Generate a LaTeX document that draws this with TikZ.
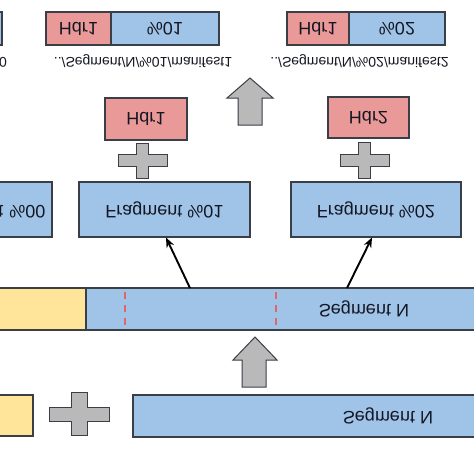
\documentclass[tikz,border=0pt]{standalone}
\usepackage{fontspec}
\setmainfont{Liberation Sans}
\usetikzlibrary{arrows.meta}
\definecolor{cblue}{RGB}{160,196,232}
\definecolor{cred}{RGB}{234,153,153}
\definecolor{cyel}{RGB}{255,229,153}
\definecolor{cgray}{RGB}{185,185,185}
\definecolor{cline}{RGB}{58,62,70}
\definecolor{cdash}{RGB}{224,102,110}
\definecolor{ctext}{RGB}{20,22,34}
\newcommand{\vflip}[1]{\scalebox{1}[-1]{#1}}
\tikzset{
  boxbase/.style={draw=cline, line width=1.2pt, inner sep=0pt, outer sep=0pt, text=ctext, font=\fontsize{18}{20}\selectfont},
  bluebox/.style={boxbase, fill=cblue},
  redbox/.style={boxbase, fill=cred},
  yelbox/.style={boxbase, fill=cyel},
  graybox/.style={fill=cgray, draw=cline, line width=1pt, line join=miter},
  lbl/.style={inner sep=0pt, text=ctext, font=\fontsize{14}{16}\selectfont},
  big/.style={inner sep=0pt, text=ctext, font=\fontsize{18}{20}\selectfont},
  conn/.style={line width=1.9pt, -{Stealth[length=10pt,width=8pt]}},
  cut/.style={draw=cdash, line width=1.5pt, dash pattern=on 7pt off 6pt}
}
\begin{document}
\begin{tikzpicture}[x=1pt,y=-1pt]
\useasboundingbox (0,0) rectangle (474,474);
\fill[white] (0,0) rectangle (474,474);
\clip (0,0) rectangle (474,474);

% top row: packaged fragments
\node[bluebox, minimum width=100, minimum height=33] (t0) at (-48,28.5) {};
\node[redbox, minimum width=65, minimum height=33] (t1h) at (78.5,28.5) {\vflip{Hdr1}};
\node[bluebox, minimum width=108, minimum height=33] (t1b) at (165,28.5) {\vflip{\%01}};
\node[redbox, minimum width=62, minimum height=33] (t2h) at (318,28.5) {\vflip{Hdr1}};
\node[bluebox, minimum width=96, minimum height=33] (t2b) at (397,28.5) {\vflip{\%02}};
\node[lbl, anchor=east] (m0) at (7,61) {\vflip{../Segment/N/\%00/manifest0}};
\node[lbl] (m1) at (143,61) {\vflip{../Segment/N/\%01/manifest1}};
\node[lbl] (m2) at (359.5,61) {\vflip{../Segment/N/\%02/manifest2}};

% top block arrow
\draw[graybox] (250,78) -- (273,98) -- (262,98) -- (262,125) -- (238,125) -- (238,98) -- (227,98) -- cycle;

% headers
\node[redbox, minimum width=82, minimum height=42] (h1) at (146,119) {\vflip{Hdr1}};
\node[redbox, minimum width=81, minimum height=41] (h2) at (368.5,117.5) {\vflip{Hdr2}};

% plus signs
\draw[graybox] (136,143) -- (148,143) -- (148,154) -- (167,154) -- (167,166) -- (148,166) -- (148,178) -- (136,178) -- (136,166) -- (118,166) -- (118,154) -- (136,154) -- cycle;
\draw[graybox] (358.5,142) -- (370.5,142) -- (370.5,154) -- (389,154) -- (389,166) -- (370.5,166) -- (370.5,178) -- (358.5,178) -- (358.5,166) -- (340,166) -- (340,154) -- (358.5,154) -- cycle;

% fragments
\node[bluebox, minimum width=171, minimum height=55, text width=158, align=right] (f0) at (-33.5,209.5) {\vflip{Fragment \%00}};
\node[bluebox, minimum width=171, minimum height=55] (f1) at (164.5,209.5) {\vflip{Fragment \%01}};
\node[bluebox, minimum width=170, minimum height=55] (f2) at (376,209.5) {\vflip{Fragment \%02}};

% segment bar with cuts
\node[yelbox, minimum width=110, minimum height=42, anchor=east] (sy) at (86,309) {};
\node[bluebox, minimum width=400, minimum height=42, anchor=west] (sb) at (86,309) {};
\node[big] (st) at (364,309) {\vflip{Segment N}};
\coordinate (c1a) at (125,292);
\coordinate (c1b) at (125,330);
\coordinate (c2a) at (276,292);
\coordinate (c2b) at (276,330);
\draw[cut] (c1a) -- (c1b);
\draw[cut] (c2a) -- (c2b);

% connectors
\coordinate (s1) at (190,288);
\coordinate (s2) at (347,288);
\coordinate (e1) at (166,237.5);
\coordinate (e2) at (372,237.5);
\draw[conn] (s1) -- (e1);
\draw[conn] (s2) -- (e2);

% bottom block arrow
\draw[graybox] (255,337) -- (277,360) -- (266,360) -- (266,387) -- (242,387) -- (242,360) -- (233,360) -- cycle;

% bottom row
\node[yelbox, minimum width=90, minimum height=41, anchor=east] (by) at (33,415.5) {};
\draw[graybox] (71,392) -- (87,392) -- (87,407) -- (109,407) -- (109,421) -- (87,421) -- (87,435) -- (71,435) -- (71,421) -- (49,421) -- (49,407) -- (71,407) -- cycle;
\node[bluebox, minimum width=360, minimum height=42, anchor=west] (bb) at (133,416) {};
\node[big] (bt) at (388,416) {\vflip{Segment N}};
\end{tikzpicture}
\end{document}
